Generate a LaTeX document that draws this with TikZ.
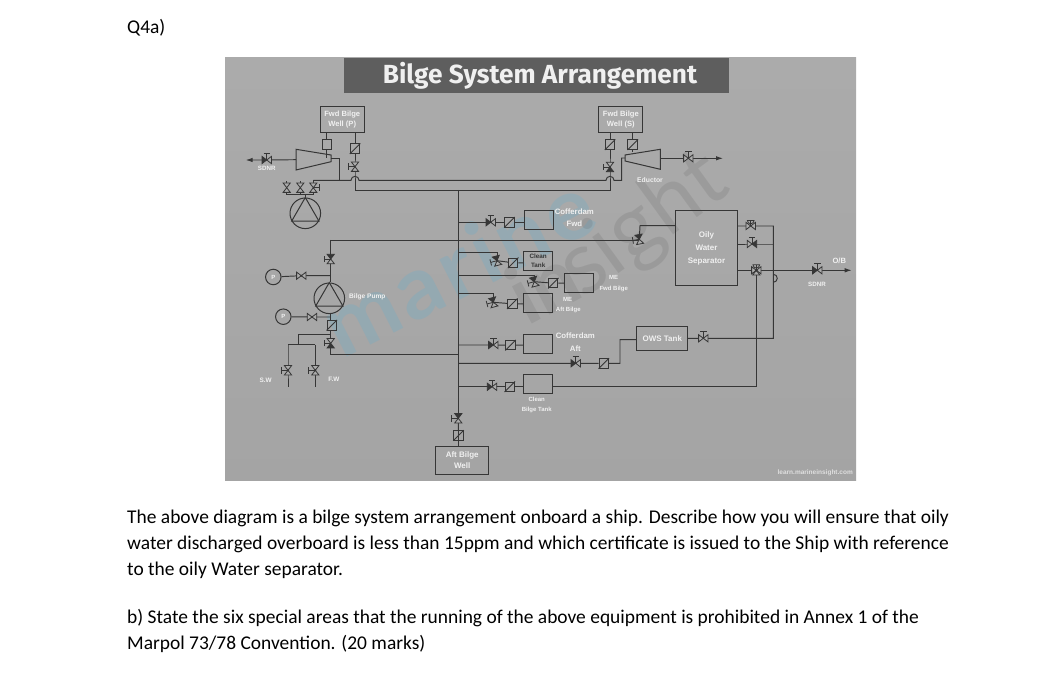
\documentclass[tikz,border=0pt]{standalone}
\usepackage{fontspec}
\setmainfont{Carlito}
\newfontfamily\lab{Liberation Sans}
\newfontfamily\ttl{Fira Sans}
\newfontfamily\wm{Lato}
\usetikzlibrary{backgrounds,arrows.meta}
\pgfdeclarelayer{paper}\pgfdeclarelayer{pipes}
\pgfsetlayers{paper,pipes,main}
\definecolor{ink}{HTML}{363636}
\definecolor{panel}{HTML}{ABABAB}
\definecolor{bar}{HTML}{5E5E5E}
\definecolor{lbl}{HTML}{F0F0F0}
\definecolor{wmblue}{HTML}{5FAFD0}
\tikzset{
 pipe/.style={draw=ink,line width=.95pt},
 vline/.style={draw=ink,line width=.8pt,line join=miter},
 tank/.style={draw=ink,line width=1.05pt,inner sep=0pt,minimum width=29pt,minimum height=19.3pt},
 filterbox/.style={draw=ink,line width=1pt,inner sep=0pt,minimum size=9.5pt},
 roundbox/.style={circle,draw=ink,line width=1pt,inner sep=0pt},
 body/.style={anchor=base west,inner sep=0pt,font=\fontsize{19.45}{23}\selectfont,text=black},
 wlabel/.style={inner sep=0pt,text=lbl,font=\lab\bfseries\fontsize{#1}{9}\selectfont},
 wlabel/.default=6.5,
 arrowend/.style={-{Latex[length=7pt,width=4.5pt]}}
}
\newcommand{\vlv}[6]{%
 \coordinate (#1) at (#2);
 \begin{scope}[shift={(#2)},rotate=#3]
 \filldraw[vline,fill=#4] (0,0)--(4.7,-3.6)--(4.7,3.6)--cycle;
 \filldraw[vline,fill=#5] (0,0)--(-4.7,-3.6)--(-4.7,3.6)--cycle;
 #6
 \end{scope}}
\newcommand{\stemT}{\draw[vline] (0,0)--(0,-6.5) (-3.2,-6.5)--(3.2,-6.5);}
\newcommand{\dome}{\draw[vline] (0,0)--(0,-5.5); \draw[vline] (-3.3,-5.5)--(3.3,-5.5) arc[start angle=0,end angle=180,radius=3.3]--cycle;}
\newcommand{\vdot}{\fill[ink] (0,0) circle[radius=1.1pt];}
\newcommand{\threeway}{\filldraw[vline,fill=panel] (0,0)--(-3.6,4.7)--(3.6,4.7)--cycle; \fill[ink] (0,0) circle[radius=1.5pt]; \dome}
\newcommand{\filt}[2]{\node[filterbox] (#1) at (#2) {}; \draw[ink,line width=.9pt] (#1.south west)--(#1.north east);}
\begin{document}
\begin{tikzpicture}[x=1pt,y=-1pt]
\useasboundingbox (0,0) rectangle (1041,692);
\begin{pgfonlayer}{paper}
\fill[white] (0,0) rectangle (1041,692);
\shade[top color=panel,bottom color=panel!96!black] (225,58) rectangle (856,480);
\begin{scope}
\clip (225,58) rectangle (856,480);
\node[inner sep=0pt,anchor=base west,rotate=27,text=wmblue,opacity=.25,font=\wm\bfseries\fontsize{88}{88}\selectfont] (wma) at (342,360) {\addfontfeature{LetterSpace=5}marine};
\node[inner sep=0pt,anchor=base west,rotate=28,text=black,opacity=.07,font=\wm\bfseries\fontsize{82}{82}\selectfont] (wmc) at (527,327) {in};
\node[inner sep=0pt,anchor=base west,rotate=36,text=black,opacity=.08,font=\wm\fontsize{88}{88}\selectfont] (wmb) at (583,300) {sight};
\end{scope}
\fill[bar] (344,58.3) rectangle (729.3,93.3);
\end{pgfonlayer}

\node[inner sep=0pt,text=lbl,font=\ttl\bfseries\fontsize{26.2}{30}\selectfont] (title) at (540,76) {Bilge System Arrangement};

% tanks
\node[tank,minimum width=43.7pt,minimum height=26pt,align=center,wlabel=7.6] (fwdp) at (342.2,119.7) {Fwd Bilge\\[1pt]Well (P)};
\node[tank,minimum width=43.7pt,minimum height=26pt,align=center,wlabel=7.6] (fwds) at (620.8,119.7) {Fwd Bilge\\[1pt]Well (S)};
\node[tank,minimum width=53pt,minimum height=28pt,align=center,wlabel=8] (aft) at (462.2,460.3) {Aft Bilge\\[1.5pt]Well};
\node[tank] (cfwd) at (538.8,220.3) {};
\node[tank,align=center,text=ink,font=\lab\bfseries\fontsize{6.3}{9.5}\selectfont] (ctank) at (538.2,260.7) {Clean\\Tank};
\node[tank] (mefwd) at (579,283) {};
\node[tank] (meaft) at (538.4,303) {};
\node[tank] (caft) at (538.4,343.7) {};
\node[tank] (cbilge) at (538.4,384.3) {};
\node[tank,minimum width=50.7pt,minimum height=24pt,wlabel=8] (ows) at (662.3,338.3) {OWS Tank};
\node[tank,minimum width=61.6pt,minimum height=74.6pt,align=center,wlabel=8] (sep) at (706.5,248) {Oily\\[4pt]Water\\[4pt]Separator};

% filters
\node[draw=ink,line width=1pt,inner sep=0pt,minimum size=9.5pt] (sq) at (326.9,144.4) {};
\filt{f1}{355,148.7}
\filt{f2}{610,144.7}
\filt{f3}{632.7,144.7}
\filt{f4}{509.5,222.3}
\filt{f5}{513.2,262.8}
\filt{f6}{553.2,283.2}
\filt{f7}{512.3,303.8}
\filt{f8}{510.5,345.2}
\filt{f9}{603.8,363.5}
\filt{f10}{509.8,386.8}
\filt{f11}{458.5,435.5}
\filt{f12}{331.8,325.3}

% pumps and gauges
\node[roundbox,minimum size=30.6pt] (emerg) at (305.3,213.3) {};
\draw[ink,line width=1pt] (emerg.north)--(emerg.210)--(emerg.330)--cycle;
\node[roundbox,minimum size=30.6pt] (bilge) at (329.3,298.3) {};
\draw[ink,line width=1pt] (bilge.north)--(bilge.210)--(bilge.330)--cycle;
\node[roundbox,minimum size=15.5pt,text=lbl,font=\lab\bfseries\fontsize{6}{7}\selectfont] (g1) at (273.3,277) {P};
\node[roundbox,minimum size=15.5pt,text=lbl,font=\lab\bfseries\fontsize{6}{7}\selectfont] (g2) at (283.3,316.7) {P};

% eductors
\coordinate (edpl) at (296,159.7); \coordinate (edpr) at (331,158.3);
\draw[vline,line width=1pt] (296,149.3)--(331,155)--(331,161.7)--(296,170)--cycle;
\coordinate (edsl) at (625,158); \coordinate (edsr) at (660.3,158.3);
\draw[vline,line width=1pt] (625,155)--(660.3,149.3)--(660.3,169.3)--(625,161)--cycle;

% valves
\vlv{vsd}{266.7,160}{0}{panel}{ink}{\stemT}
\vlv{v1}{355,166.7}{90}{panel}{panel}{\stemT}
\vlv{ve1}{286.7,187.7}{90}{panel}{panel}{}
\vlv{ve2}{300.3,187.7}{90}{panel}{panel}{}
\vlv{ve3}{313.3,187.7}{-90}{panel}{panel}{\stemT}
\vlv{vs}{610,167}{90}{panel}{ink}{\stemT}
\vlv{vo}{688.3,158.3}{0}{panel}{panel}{\stemT}
\vlv{vc1}{490.7,222.3}{0}{panel}{ink}{\stemT}
\vlv{vsep}{639.3,239.3}{100}{ink}{panel}{\stemT}
\vlv{vc2}{497,260.7}{105}{ink}{panel}{\stemT}
\vlv{vc3}{534.3,281.7}{105}{ink}{panel}{\stemT}
\vlv{vc4}{493.3,302.3}{105}{ink}{panel}{\stemT}
\vlv{vc5}{493.3,345}{0}{panel}{ink}{\stemT}
\vlv{vc6}{575.7,363.3}{0}{panel}{ink}{\stemT}
\vlv{vc7}{492,386.8}{0}{panel}{ink}{\stemT}
\vlv{vaft}{458.3,418.3}{90}{ink}{panel}{\stemT}
\vlv{vp1}{330.7,259}{90}{ink}{panel}{\stemT}
\vlv{vp2}{330.7,343.3}{90}{panel}{ink}{\stemT}
\vlv{vg1}{301.3,275.7}{0}{panel}{panel}{\vdot}
\vlv{vg2}{312,317}{0}{panel}{panel}{\vdot}
\vlv{vsw}{288,370.3}{90}{panel}{panel}{\stemT\vdot}
\vlv{vfw}{315.3,370.3}{90}{panel}{panel}{\stemT\vdot}
\vlv{vow}{703.3,338.3}{0}{panel}{panel}{\stemT}
\vlv{vs1}{750.7,226}{0}{panel}{panel}{\dome}
\vlv{vs2}{752,244}{0}{ink}{panel}{\stemT}
\vlv{v3w}{756.3,270.3}{0}{panel}{panel}{\threeway}
\vlv{vsd2}{817.3,270.3}{0}{panel}{ink}{\stemT}

% free ends and corners
\coordinate (oa1) at (245.7,160);
\coordinate (oa2) at (723,158.3);
\coordinate (oa3) at (851.7,270.3);
\coordinate (mtop) at (458.3,190);
\coordinate (hl1) at (351,180.3);
\coordinate (hl2) at (606,180.3);
\coordinate (hd) at (773.3,274.3);
\coordinate (hu) at (773.3,266.3);
\coordinate (swb) at (288,386.7);
\coordinate (fwb) at (315.3,386.7);
\coordinate (t1) at (339.3,158.3);
\coordinate (t2) at (621.7,180.3);
\coordinate (bus) at (298.7,334.3);
\coordinate (busb) at (298.7,344.7);
\coordinate (elow) at (286.7,194.3);
\coordinate (ehigh) at (313.3,194.3);
\coordinate (pl) at (330.7,240);
\coordinate (pbot) at (330.7,354.7);
\coordinate (ttop) at (620,339.7);
\coordinate (tbot) at (620,363.3);
\coordinate (sepc) at (640,225.7);
\coordinate (ccor) at (773.3,338.3);
\coordinate (cb) at (756.3,386);

\begin{pgfonlayer}{pipes}
\draw[pipe] (fwdp.south -| sq) -- (sq) -- (sq |- edpr);
\draw[pipe] (fwdp.south -| f1) -- (f1) -- (v1) -- (355,190) -- (mtop);
\draw[pipe,arrowend] (edpl) -- (vsd) -- (oa1);
\draw[pipe] (edpr) -- (t1) -- (t1 |- hl1);
\draw[pipe] (ve3 |- hl1) -- (hl1) arc[start angle=180,end angle=360,radius=4] -- (hl2) arc[start angle=180,end angle=360,radius=4] -- (t2) |- (edsl);
\draw[pipe] (ve3) -- (ve3 |- hl1);
\draw[pipe] (ve1) -- (elow) -- (ehigh) -- (ve3);
\draw[pipe] (ve1) -- ++(0,-7);
\draw[pipe] (ve2) -- (ve2 |- elow);
\draw[pipe] (ve2) -- ++(0,-7);
\draw[pipe] (emerg.north) -- (emerg.north |- elow);
\draw[pipe] (mtop) -- (610,190) -- (vs) -- (f2) -- (f2 |- fwds.south);
\draw[pipe] (f3 |- fwds.south) -- (f3) -- (632.7,152);
\draw[pipe,arrowend] (edsr) -- (vo) -- (oa2);
\draw[pipe] (mtop) -- (458.3,446.3);
\draw[pipe] (mtop |- vc1) -- (vc1) -- (f4) -- (f4 -| cfwd.west);
\draw[pipe] (pl) -- (vsep |- pl) -- (vsep);
\draw[pipe] (vsep) -- (sepc) -- (sepc -| sep.west);
\draw[pipe] (mtop |- 0,252.3) -| (vc2);
\draw[pipe] (vc2) -- (f5) -- (f5 -| ctank.west);
\draw[pipe] (mtop |- 0,275) -| (vc3);
\draw[pipe] (vc3) -- (f6) -- (f6 -| mefwd.west);
\draw[pipe] (mtop |- 0,293) -| (vc4);
\draw[pipe] (vc4) -- (f7) -- (f7 -| meaft.west);
\draw[pipe] (mtop |- vc5) -- (vc5) -- (f8) -- (f8 -| caft.west);
\draw[pipe] (mtop |- tbot) -- (vc6) -- (f9) -- (tbot) -- (ttop) -- (ttop -| ows.west);
\draw[pipe] (mtop |- vc7) -- (vc7) -- (f10) -- (f10 -| cbilge.west);
\draw[pipe] (cbilge.east |- cb) -- (cb) -- (v3w);
\draw[pipe] (vaft) -- (f11) -- (f11 |- aft.north);
\draw[pipe] (pl) -- (vp1) -- (vp1 |- bilge.north);
\draw[pipe] (g1) -- (vg1) -- (vg1 -| pl);
\draw[pipe] (g2) -- (vg2) -- (vg2 -| pl);
\draw[pipe] (pl |- bilge.south) -- (pl |- f12.north);
\draw[pipe] (pl |- f12.south) -- (vp2);
\draw[pipe] (vp2) -- (pbot) -- (pbot -| mtop);
\draw[pipe] (pl |- bus) -- (bus) -- (busb);
\draw[pipe] (vsw |- busb) -- (vfw |- busb);
\draw[pipe] (vsw |- busb) -- (vsw) -- (swb);
\draw[pipe] (vfw |- busb) -- (vfw) -- (fwb);
\draw[pipe] (ows.east) -- (vow) -- (ccor) -- (hd) arc[start angle=-90,end angle=90,radius=4] -- (hu) -- (ccor |- vs1) -- (vs1) -- (vs1 -| sep.east);
\draw[pipe] (ccor |- vs2) -- (vs2) -- (vs2 -| sep.east);
\draw[pipe,arrowend] (sep.east |- v3w) -- (v3w) -- (vsd2) -- (oa3);
\end{pgfonlayer}

% labels
\node[wlabel=6.2] (lsd1) at (266.7,168.6) {SDNR};
\node[wlabel=6.8] (led) at (650,180) {Eductor};
\node[wlabel=7.8] (l1) at (574.3,211.7) {Cofferdam};
\node[wlabel=7.8] (l2) at (574.3,224) {Fwd};
\node[wlabel=6] (l3) at (613.7,277.7) {ME};
\node[wlabel=6] (l4) at (613.7,288.7) {Fwd Bilge};
\node[wlabel=6] (l5) at (567.7,299.3) {ME};
\node[wlabel=6] (l6) at (568.3,310.3) {Aft Bilge};
\node[wlabel=7.8] (l7) at (575.3,335.7) {Cofferdam};
\node[wlabel=7.8] (l8) at (575.3,348.3) {Aft};
\node[wlabel=6] (l9) at (536.7,399.7) {Clean};
\node[wlabel=6] (l10) at (536.7,410.3) {Bilge Tank};
\node[wlabel=7.6] (l11) at (839.3,261) {O/B};
\node[wlabel=6.2] (l12) at (817,284.3) {SDNR};
\node[wlabel=6.6] (l13) at (367.3,297.3) {Bilge Pump};
\node[wlabel=6.4] (l14) at (265.7,380) {S.W};
\node[wlabel=6.4] (l15) at (334,379.3) {F.W};
\node[inner sep=0pt,anchor=east,text=lbl!75!panel,font=\lab\bfseries\fontsize{6.5}{8}\selectfont] (l16) at (853,473) {learn.marineinsight.com};

% page text
\node[body] (q) at (127,33.5) {Q4a)};
\node[body] (p1) at (127,523.5) {The above diagram is a bilge system arrangement onboard a ship. Describe how you will ensure that oily};
\node[body] (p2) at (127,549.5) {water discharged overboard is less than 15ppm and which certificate is issued to the Ship with reference};
\node[body] (p3) at (127,575.5) {to the oily Water separator.};
\node[body] (p4) at (127,623.5) {b) State the six special areas that the running of the above equipment is prohibited in Annex 1 of the};
\node[body] (p5) at (127,649.5) {Marpol 73/78 Convention. (20 marks)};
\end{tikzpicture}
\end{document}
